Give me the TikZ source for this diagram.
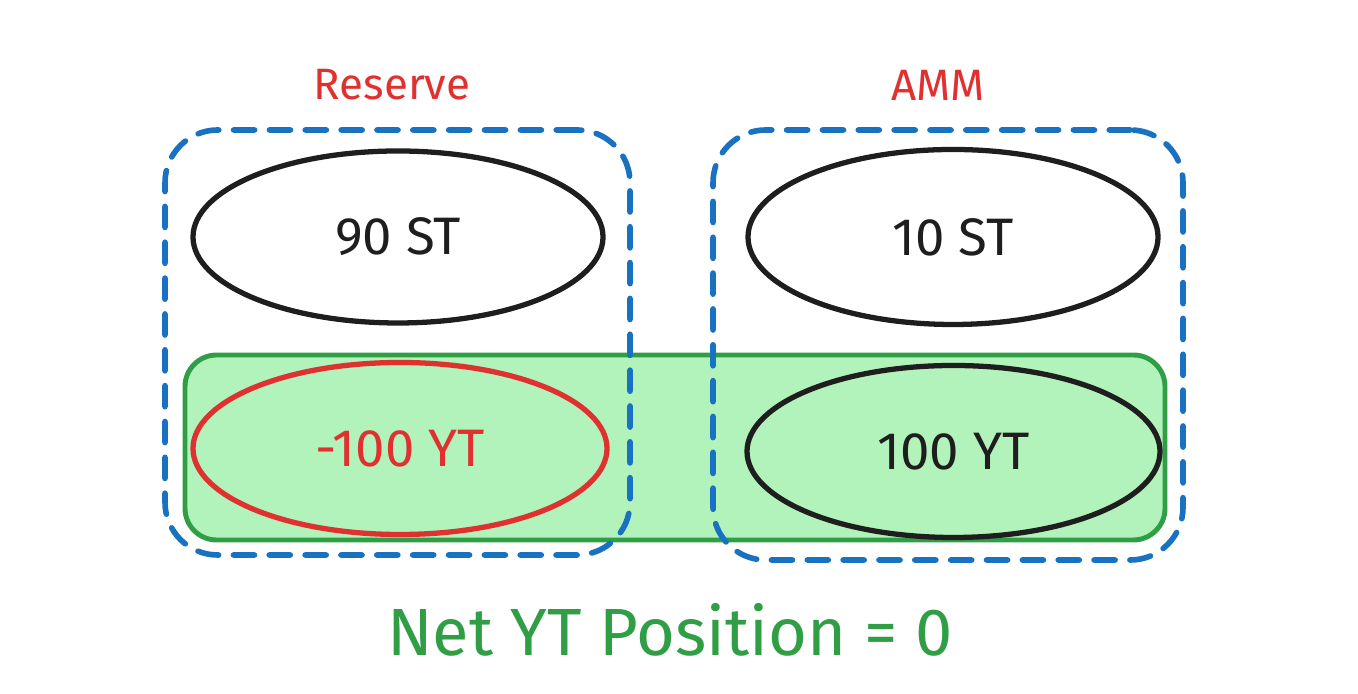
\documentclass[tikz,border=0pt]{standalone}
\usepackage{fontspec}
\setmainfont{Fira Sans}
\usepackage{tikz}
\usetikzlibrary{shapes.geometric}
\definecolor{xred}{HTML}{E03131}
\definecolor{xblue}{HTML}{1971C2}
\definecolor{xgreen}{HTML}{2F9E44}
\definecolor{xlight}{HTML}{B2F2BB}
\definecolor{xink}{HTML}{1E1E1E}
\tikzstyle{pool}=[draw=xblue, line width=1.6pt, dash pattern=on 6pt off 4.2pt, line cap=round, rounded corners=15pt, inner sep=0pt]
\tikzstyle{token}=[ellipse, draw=xink, line width=1.5pt, inner sep=0pt, minimum width=4.1cm, minimum height=1.72cm, font=\fontsize{15}{17}\selectfont, text=xink]

\begin{document}
\begin{tikzpicture}
        \useasboundingbox (0,0) rectangle (13.58,6.94);
        % Band behind the two YT entries
        \node (net) at (6.75,2.465) [draw=xgreen, fill=xlight, line width=1.4pt, rounded corners=9pt, minimum width=9.8cm, minimum height=1.85cm] {};

        % Dashed pools
        \node (reserve) at (3.975,3.515) [pool, minimum width=4.65cm, minimum height=4.25cm] {};
        \node (amm) at (9.48,3.49) [pool, minimum width=4.7cm, minimum height=4.3cm] {};
        \node (rlabel) at (3.92,6.09) [text=xred, font=\fontsize{12.5}{15}\selectfont] {Reserve};
        \node (alabel) at (9.38,6.09) [text=xred, font=\fontsize{12.5}{15}\selectfont] {AMM};

        % Token amounts
        \node (rst) at (3.98,4.57) [token] {90 ST};
        \node (ast) at (9.53,4.57) [token, minimum height=1.75cm] {10 ST};
        \node (ryt) at (4.0,2.455) [token, draw=xred, text=xred, minimum width=4.14cm] {-100 YT};
        \node (ayt) at (9.535,2.425) [token, minimum width=4.13cm] {100 YT};

        \node (total) at (6.7,0.64) [text=xgreen, font=\fontsize{19}{23}\selectfont] {Net YT Position = 0};
\end{tikzpicture}
\end{document}
